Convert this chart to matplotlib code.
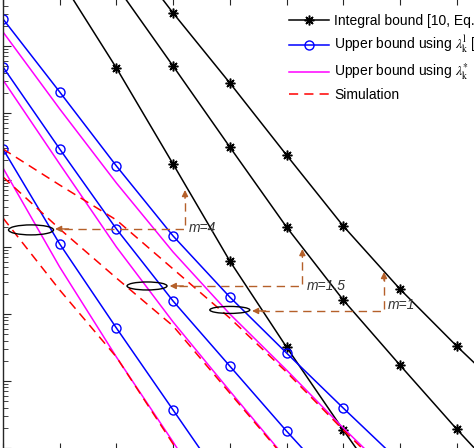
import numpy as np
import matplotlib
matplotlib.use("Agg")
import matplotlib.pyplot as plt
from matplotlib.patches import Ellipse

plt.rcParams['font.family'] = ['Liberation Sans', 'DejaVu Sans']
plt.rcParams['mathtext.fontset'] = 'stix'

# ---- data (x: SNR in dB at tick positions) ----
snr = [0, 5, 10, 15, 20, 25, 30, 35, 40, 45]

# Integral bound (black, asterisk)
int_m1_x = [10, 15, 20, 25, 30, 35, 40, 45]
int_m1_y = [3.95, 0.311, 2.81e-2, 2.36e-3, 2.06e-4, 2.36e-5, 3.33e-6, 5.20e-7]
int_m15_x = [10, 15, 20, 25, 30, 35, 40, 45]
int_m15_y = [0.787, 5.02e-2, 3.11e-3, 1.99e-4, 1.62e-5, 1.73e-6, 1.92e-7, 2.36e-8]
int_m4_x = [5, 10, 15, 20, 25, 30, 35]
int_m4_y = [1.03, 4.70e-2, 1.73e-3, 6.18e-5, 3.21e-6, 1.86e-7, 1.19e-8]

# Upper bound using lambda_k^l (blue, circles)
ubl_m1_x = [0, 5, 10, 15, 20, 25, 30, 35]
ubl_m1_y = [0.253, 2.06e-2, 1.62e-3, 1.46e-4, 1.79e-5, 2.62e-6, 3.95e-7, 6.18e-8]
ubl_m15_x = [0, 5, 10, 15, 20, 25, 30]
ubl_m15_y = [4.86e-2, 2.90e-3, 1.86e-4, 1.56e-5, 1.67e-6, 1.79e-7, 2.13e-8]
ubl_m4_x = [0, 5, 10, 15, 20]
ubl_m4_y = [2.90e-3, 1.11e-4, 6.18e-6, 3.69e-7, 2.20e-8]

# Upper bound using lambda_k^* (magenta)
ubs_m1_x = [0, 5, 10, 15, 20, 25, 30, 35]
ubs_m1_y = [0.162, 1.15e-2, 9.02e-4, 8.41e-5, 1.0e-5, 1.46e-6, 1.99e-7, 3.01e-8]
ubs_m15_x = [0, 5, 10, 15, 20, 25]
ubs_m15_y = [3.11e-2, 1.73e-3, 1.0e-4, 7.60e-6, 7.10e-7, 6.85e-8]
ubs_m4_x = [0, 5, 10, 15, 20]
ubs_m4_y = [1.51e-3, 5.02e-5, 2.28e-6, 1.23e-7, 5.97e-9]

# Simulation (red dashed)
sim_m1_x = [0, 5, 10, 15, 20, 25, 30, 35]
sim_m1_y = [2.90e-3, 8.41e-4, 2.53e-4, 4.70e-5, 8.71e-6, 1.36e-6, 1.86e-7, 2.81e-8]
sim_m15_x = [0, 5, 10, 15, 20, 25]
sim_m15_y = [1.11e-3, 1.86e-4, 3.44e-5, 6.62e-6, 6.62e-7, 6.62e-8]
sim_m4_x = [0, 5, 10, 15, 20]
sim_m4_y = [2.71e-4, 2.28e-5, 2.28e-6, 1.15e-7, 5.97e-9]

labels = ["Integral bound [10, Eq. (8)]",
          r"Upper bound using $\lambda_{\rm k}^{\rm l}$ [11]",
          r"Upper bound using $\lambda_{\rm k}^{*}$ Eq. (20)",
          "Simulation"]

# annotations: (ellipse centre x, y), (corner x, y), (up-arrow tip y), text
ann_names = ["m=4", "m=1.5", "m=1"]
ell_x = [2.47, 12.7, 20.0]
ell_y = [1.80e-4, 2.62e-5, 1.15e-5]
tipl_x = [4.59, 14.7, 21.96]
corner_x = [16.05, 26.4, 33.6]
corner_y = [1.86e-4, 2.62e-5, 1.11e-5]
tipu_y = [7.10e-4, 9.33e-5, 4.24e-5]

# ---- figure ----
W, H = 474, 448
fig = plt.figure(figsize=(W / 100, H / 100), dpi=100)
ax = fig.add_axes([3 / W, -1 / H, 567 / W, 450 / H])
ax.set_yscale('log')
ax.set_xlim(0, 50)
ax.set_ylim(9.66e-8, 0.503)

blk = dict(color='black', lw=1.1, marker=(8, 2, 0), ms=7, mew=1.1)
blu = dict(color='#0000ff', lw=1.1, marker='o', ms=6.5, mfc='none', mew=1.0)
mag = dict(color='#ff00ff', lw=1.1)
red = dict(color='#ff0000', lw=1.1, ls=(0, (6, 4)))

l1, = ax.plot(int_m1_x, int_m1_y, **blk)
ax.plot(int_m15_x, int_m15_y, **blk)
ax.plot(int_m4_x, int_m4_y, **blk)
l2, = ax.plot(ubl_m1_x, ubl_m1_y, **blu)
ax.plot(ubl_m15_x, ubl_m15_y, **blu)
ax.plot(ubl_m4_x, ubl_m4_y, **blu)
l3, = ax.plot(ubs_m1_x, ubs_m1_y, **mag)
ax.plot(ubs_m15_x, ubs_m15_y, **mag)
ax.plot(ubs_m4_x, ubs_m4_y, **mag)
l4, = ax.plot(sim_m1_x, sim_m1_y, **red)
ax.plot(sim_m15_x, sim_m15_y, **red)
ax.plot(sim_m4_x, sim_m4_y, **red)

# annotations
brown = '#b5602a'
ell_w = [45, 40, 40]
ell_h = [10, 8, 7]
text_dy = [1, 0, 4]
for i in range(3):
    cx, cy = ax.transData.transform((ell_x[i], ell_y[i]))
    e = Ellipse((cx, cy), ell_w[i], ell_h[i], transform=None,
                fill=False, ec='black', lw=1.0, zorder=5)
    ax.add_artist(e)
    ax.plot([tipl_x[i] + 0.8, corner_x[i], corner_x[i]],
            [corner_y[i], corner_y[i], tipu_y[i] * 0.82],
            color=brown, lw=1.0, ls=(0, (6, 4)), zorder=6)
    ax.annotate('', xy=(tipl_x[i], corner_y[i]), xytext=(tipl_x[i] + 1.2, corner_y[i]),
                arrowprops=dict(arrowstyle='-|>', color=brown, lw=1.0,
                                mutation_scale=9, shrinkA=0, shrinkB=0), zorder=6)
    ax.annotate('', xy=(corner_x[i], tipu_y[i]), xytext=(corner_x[i], tipu_y[i] * 0.75),
                arrowprops=dict(arrowstyle='-|>', color=brown, lw=1.0,
                                mutation_scale=9, shrinkA=0, shrinkB=0), zorder=6)
    ax.annotate(ann_names[i], xy=(corner_x[i], corner_y[i]), xytext=(3, text_dy[i]),
                textcoords='offset points', ha='left', va='center',
                fontsize=10, style='italic', color='#333333', zorder=7)

# axes styling
axc = '#262626'
for s in ['left', 'top', 'bottom', 'right']:
    ax.spines[s].set_color(axc)
    ax.spines[s].set_linewidth(1.0)
ax.set_xticks(snr)
ax.tick_params(axis='x', which='both', direction='in', top=True, bottom=True,
               length=4, width=0.8, color=axc, labelbottom=False, labeltop=False)
ax.tick_params(axis='y', which='major', direction='in', left=True, right=True,
               length=6, width=0.8, color=axc, labelleft=False)
ax.tick_params(axis='y', which='minor', direction='in', left=True, right=True,
               length=3.5, width=0.6, color=axc)
ax.yaxis.set_minor_locator(matplotlib.ticker.LogLocator(base=10, subs=np.arange(2, 10), numticks=20))
ax.yaxis.set_major_locator(matplotlib.ticker.LogLocator(base=10, numticks=20))
ax.minorticks_on()
ax.xaxis.set_minor_locator(matplotlib.ticker.NullLocator())

leg = ax.legend([l1, l2, l3, l4], labels, loc='upper left',
                bbox_to_anchor=(289 / W, 1 - 14 / H), bbox_transform=fig.transFigure,
                frameon=False, fontsize=10, handlelength=2.9, handletextpad=0.35,
                labelspacing=0.45, borderpad=0, borderaxespad=0)

fig.savefig('out.png', dpi=100)
